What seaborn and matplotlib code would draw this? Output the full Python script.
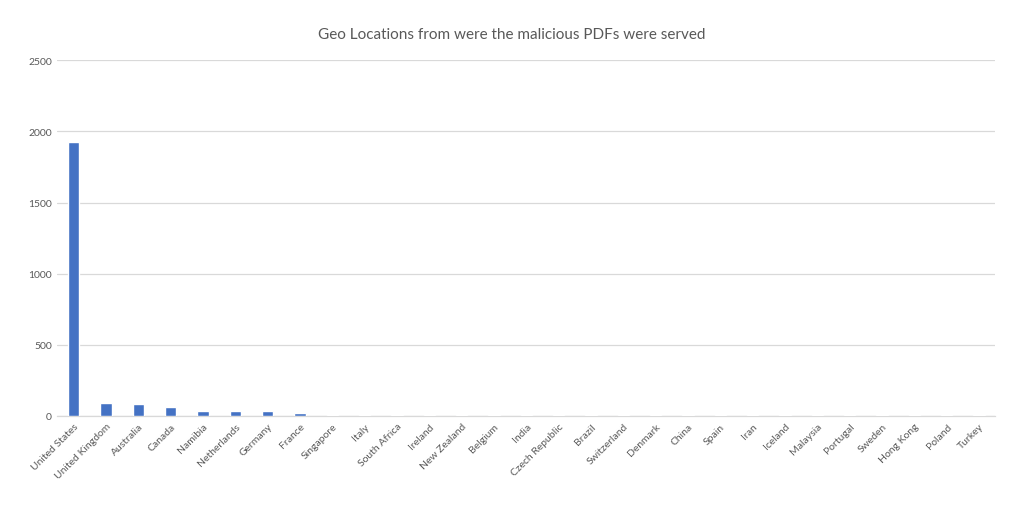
import pandas as pd
import matplotlib
matplotlib.use("Agg")
import matplotlib.pyplot as plt
import seaborn as sns

# ── Data ────────────────────────────────────────────────────────────────────
countries = ['United States', 'United Kingdom', 'Australia', 'Canada', 'Namibia',
             'Netherlands', 'Germany', 'France', 'Singapore', 'Italy',
             'South Africa', 'Ireland', 'New Zealand', 'Belgium', 'India',
             'Czech Republic', 'Brazil', 'Switzerland', 'Denmark', 'China',
             'Spain', 'Iran', 'Iceland', 'Malaysia', 'Portugal', 'Sweden',
             'Hong Kong', 'Poland', 'Turkey']
counts = [1925, 92, 84, 60, 33, 33, 33, 24, 10, 10,
          10, 10, 9, 9, 9, 9, 9, 9, 9, 9,
          9, 9, 9, 9, 9, 9, 9, 9, 9]

df = pd.DataFrame({'country': countries, 'count': counts})

# ── Plot ────────────────────────────────────────────────────────────────────
sns.set_theme(style='white')
plt.rcParams['font.family'] = ['Lato', 'DejaVu Sans']

fig = plt.figure(figsize=(10.24, 5.06), dpi=100)
ax = fig.add_axes([0.056, 0.176, 0.916, 0.703])

sns.barplot(data=df, x='country', y='count', color='#4472C4',
            width=0.35, saturation=1, ax=ax, zorder=3)

ax.set_ylim(0, 2500)
ax.set_yticks(range(0, 2501, 500))
ax.set_xlim(-0.5, len(countries) - 0.5)
ax.yaxis.grid(True, color='#D9D9D9', linewidth=0.9)
ax.set_axisbelow(True)
for s in ['top', 'right', 'left']:
    ax.spines[s].set_visible(False)
ax.spines['bottom'].set_color('#D9D9D9')
ax.spines['bottom'].set_linewidth(0.9)
ax.spines['bottom'].set_zorder(1)

ax.set_xlabel('')
ax.set_ylabel('')
ax.tick_params(axis='both', length=0, labelsize=7.5, colors='#595959', pad=4)
plt.setp(ax.get_xticklabels(), rotation=45, ha='right', rotation_mode='anchor')

fig.suptitle('Geo Locations from were the malicious PDFs were served',
             x=0.5, y=0.945, fontsize=11, color='#595959')

plt.savefig('out.png', dpi=100)
plt.close()
